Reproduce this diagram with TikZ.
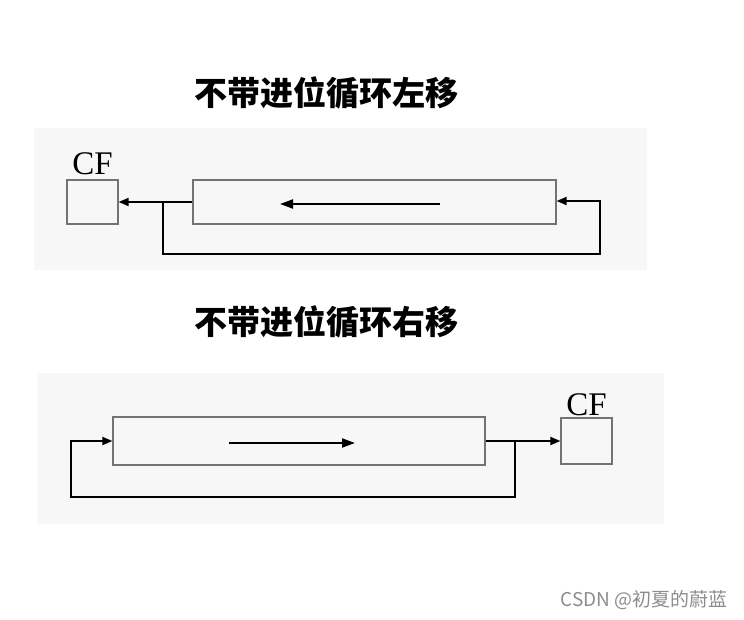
\documentclass[tikz,border=0pt]{standalone}
\usepackage{fontspec}
\setmainfont{Liberation Serif}
\newfontfamily\cjk{Noto Sans CJK SC}
\usetikzlibrary{arrows.meta,positioning}
\begin{document}
\begin{tikzpicture}[
        x=1pt, y=-1pt,
        panel/.style={fill=black!3, draw=none},
        title/.style={font=\cjk\bfseries\fontsize{33}{35}\selectfont, inner sep=0pt},
        reg/.style={rectangle, draw=black!55, line width=1.2pt, minimum width=363pt, minimum height=44pt, inner sep=0pt},
        cfbox/.style={rectangle, draw=black!55, line width=1.2pt, minimum width=51pt, minimum height=44pt, inner sep=0pt},
        cflabel/.style={font=\fontsize{33}{33}\selectfont, inner sep=0pt},
        wire/.style={line width=1.8pt},
        arrow/.style={wire, -{Triangle[length=10pt, width=8pt]}},
        movearrow/.style={line width=2pt, -{Triangle[length=13pt, width=9pt]}}
    ]
    \useasboundingbox (0,0) rectangle (744,619);

    \fill[panel] (34,128) rectangle (647,270);
    \fill[panel] (37,373) rectangle (664,524);

    \node[title] (titleL) at (326,93) {不带进位循环左移};
    \node[title] (titleR) at (326,322) {不带进位循环右移};

    \node[reg] (regL) at (374.5,202) {};
    \node[cfbox] (cfL) at (92.5,202) {};
    \node[cflabel, above=4pt of cfL] (cfLtxt) {CF};
    \coordinate (brL) at (163,202);
    \coordinate (inL1) at (440,204);
    \coordinate (inL2) at (280,204);

    \draw[arrow] (regL.west) -- (cfL.east);
    \draw[arrow] (brL) -- (163,254) -- (600,254) -- (600,201) -- (regL.east |- 0,201);
    \draw[movearrow] (inL1) -- (inL2);

    \node[reg, minimum width=372pt, minimum height=48pt] (regR) at (299,441) {};
    \node[cfbox, minimum height=46pt] (cfR) at (586.5,441) {};
    \node[cflabel, above=1pt of cfR] (cfRtxt) {CF};
    \coordinate (brR) at (515,441);
    \coordinate (inR1) at (229,443);
    \coordinate (inR2) at (355,443);

    \draw[arrow] (regR.east) -- (cfR.west);
    \draw[arrow] (brR) -- (515,497) -- (71,497) -- (71,441) -- (regR.west);
    \draw[movearrow] (inR1) -- (inR2);

    \node[font=\cjk\fontsize{19}{19}\selectfont, text=black!45, anchor=east, inner sep=0pt] (mark) at (728,600) {CSDN @初夏的蔚蓝};

\end{tikzpicture}
\end{document}
